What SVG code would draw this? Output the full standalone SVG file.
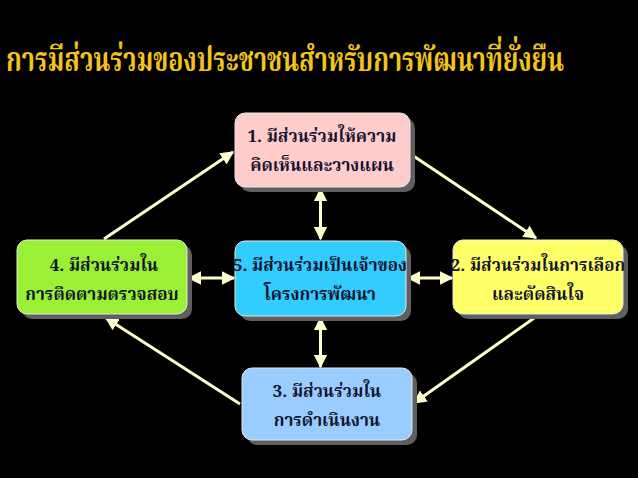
<svg xmlns="http://www.w3.org/2000/svg" width="638" height="478" viewBox="0 0 638 478">
<defs>
<style>
.sh{fill:#5f5f5f}
.bx{stroke:#e8e8e8;stroke-width:1}
.t{font-family:"Noto Serif Thai","Noto Sans Thai","TlwgTypo","Garuda","Loma","DejaVu Sans","Liberation Serif",serif;font-weight:bold;font-size:17px;fill:#14142e;text-anchor:middle}
.ttl{font-family:"Noto Serif Thai","Noto Sans Thai","Garuda","Loma","Liberation Serif",serif;font-size:33px;font-weight:bold;fill:#f2c418}
.c{stroke:#ffffcc;stroke-width:3;fill:none}
</style>
<marker id="ah" viewBox="0 0 10 10" refX="9" refY="5" markerWidth="4.5" markerHeight="4.5" orient="auto-start-reverse" markerUnits="strokeWidth">
<path d="M0,0 L10,5 L0,10 Z" fill="#ffffcc"/>
</marker>
</defs>
<rect width="638" height="478" fill="#000"/>
<text class="ttl" x="6" y="71" textLength="558" lengthAdjust="spacingAndGlyphs">การมีส่วนร่วมของประชาชนสำหรับการพัฒนาที่ยั่งยืน</text>
<g id="connectors">
<line class="c" x1="104" y1="239" x2="233" y2="152" marker-end="url(#ah)"/>
<line class="c" x1="406" y1="151" x2="536" y2="238" marker-end="url(#ah)"/>
<line class="c" x1="537" y1="316" x2="414" y2="403" marker-end="url(#ah)"/>
<line class="c" x1="240" y1="404" x2="106" y2="318" marker-end="url(#ah)"/>
<line class="c" x1="320.5" y1="189" x2="320.5" y2="239" marker-start="url(#ah)" marker-end="url(#ah)"/>
<line class="c" x1="320.5" y1="318" x2="320.5" y2="367" marker-start="url(#ah)" marker-end="url(#ah)"/>
<line class="c" x1="189" y1="278" x2="234" y2="278" marker-start="url(#ah)" marker-end="url(#ah)"/>
<line class="c" x1="408" y1="278" x2="452" y2="278" marker-start="url(#ah)" marker-end="url(#ah)"/>
</g>
<g id="node1">
<rect class="sh" x="240" y="118" width="175" height="74" rx="10"/>
<rect class="bx" x="235" y="113" width="175" height="74" rx="10" fill="#ffcccc"/>
<text class="t" x="322" y="142">1. มีส่วนร่วมให้ความ</text>
<text class="t" x="322" y="171">คิดเห็นและวางแผน</text>
</g>
<g id="node4">
<rect class="sh" x="22" y="245" width="170" height="74" rx="10"/>
<rect class="bx" x="17" y="240" width="170" height="74" rx="10" fill="#99f034"/>
<text class="t" x="104" y="271">4. มีส่วนร่วมใน</text>
<text class="t" x="102" y="300">การติดตามตรวจสอบ</text>
</g>
<g id="node5">
<rect class="sh" x="240" y="246" width="171" height="75" rx="10"/>
<rect class="bx" x="235" y="241" width="171" height="75" rx="10" fill="#33ccff"/>
<text class="t" x="320" y="271">5. มีส่วนร่วมเป็นเจ้าของ</text>
<text class="t" x="320" y="300">โครงการพัฒนา</text>
</g>
<g id="node2">
<rect class="sh" x="458" y="245" width="170" height="74" rx="10"/>
<rect class="bx" x="453" y="240" width="170" height="74" rx="10" fill="#ffff66"/>
<text class="t" x="538" y="271">2. มีส่วนร่วมในการเลือก</text>
<text class="t" x="538" y="300">และตัดสินใจ</text>
</g>
<g id="node3">
<rect class="sh" x="247" y="373" width="170" height="72" rx="10"/>
<rect class="bx" x="242" y="368" width="170" height="72" rx="10" fill="#99ccff"/>
<text class="t" x="327" y="397">3. มีส่วนร่วมใน</text>
<text class="t" x="327" y="426">การดำเนินงาน</text>
</g>
</svg>
